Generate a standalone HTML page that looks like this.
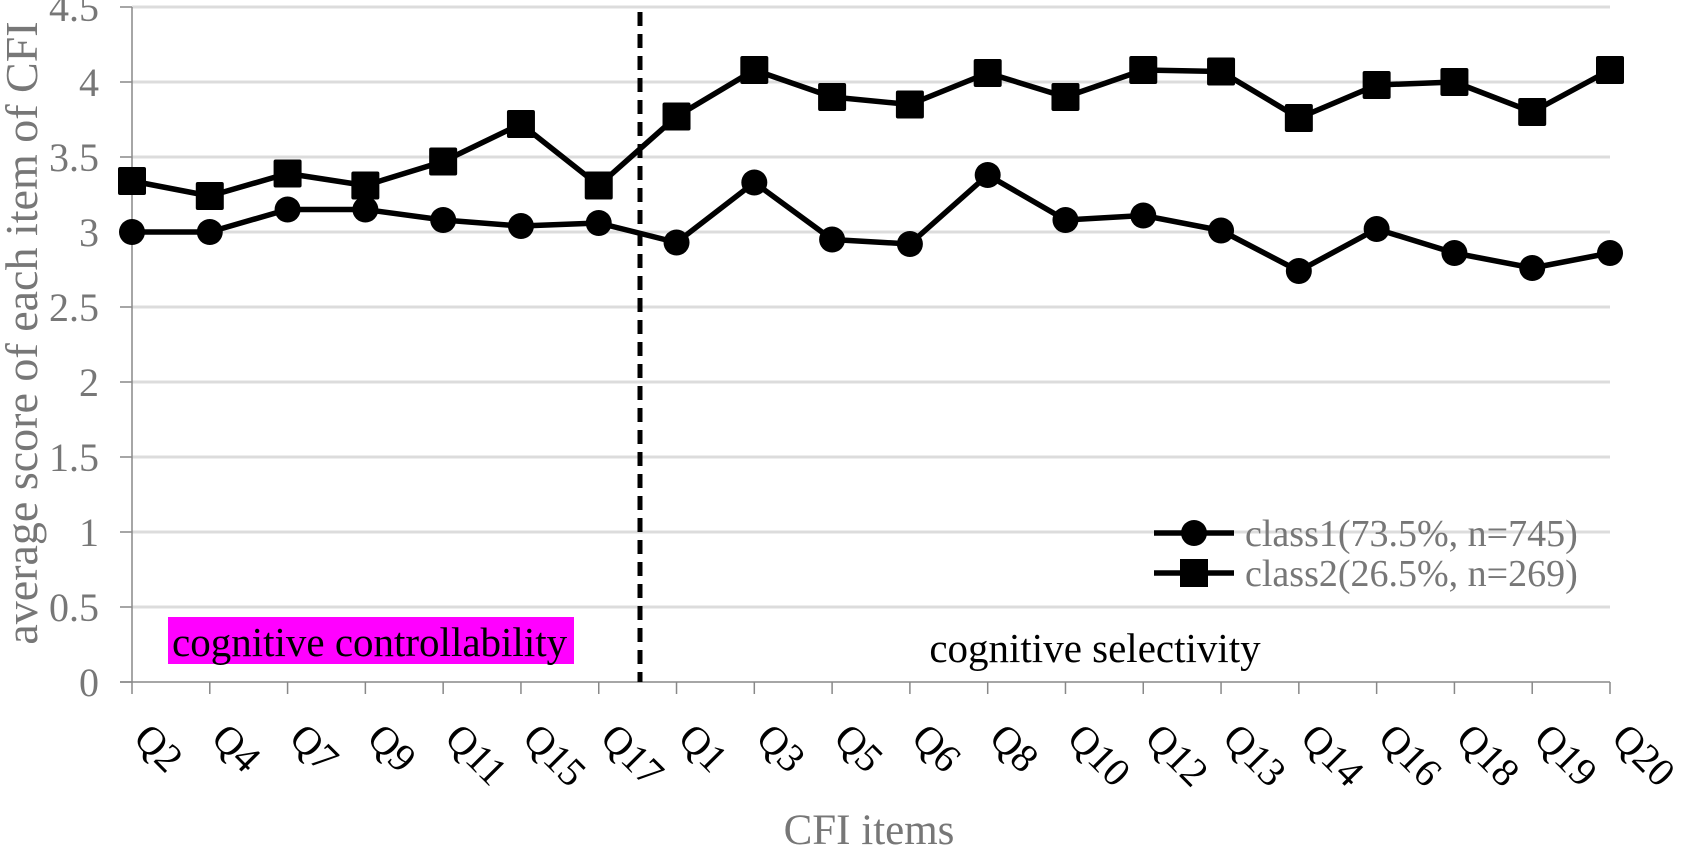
<!DOCTYPE html>
<html><head><meta charset="utf-8"><style>
html,body{margin:0;padding:0;background:#fff;}
svg text{font-family:"Liberation Serif",serif;}
</style></head><body>
<svg id="chart" width="1683" height="847" xmlns="http://www.w3.org/2000/svg">
<g id="grid"></g><g id="axes"></g>
<rect x="168" y="617" width="406" height="47" fill="#ff00ff"/>
<text x="172" y="656" font-size="41" fill="#000">cognitive controllability</text>
<text x="1095" y="662" font-size="41" fill="#000" text-anchor="middle">cognitive selectivity</text>
<line x1="640" y1="12" x2="640" y2="682" stroke="#000" stroke-width="5" stroke-dasharray="14,8"/>
<g id="series"></g>
<g>
<g>
<line x1="1154" y1="533" x2="1234" y2="533" stroke="#000" stroke-width="5.5"/>
<circle cx="1194" cy="533" r="13" fill="#000"/>
<text x="1245" y="546" font-size="38" fill="#777">class1(73.5%, n=745)</text></g>
<g>
<line x1="1154" y1="573" x2="1234" y2="573" stroke="#000" stroke-width="5.5"/>
<rect x="1180" y="559" width="28" height="28" fill="#000"/>
<text x="1245" y="586" font-size="38" fill="#777">class2(26.5%, n=269)</text></g>
</g>
<text x="869" y="844" font-size="43" fill="#777" text-anchor="middle">CFI items</text>
<text transform="translate(37,333) rotate(-90)" font-size="46" fill="#777" text-anchor="middle">average score of each item of CFI</text>
</svg>
<script>
const categories=["Q2","Q4","Q7","Q9","Q11","Q15","Q17","Q1","Q3","Q5","Q6","Q8","Q10","Q12","Q13","Q14","Q16","Q18","Q19","Q20"];
const class1=[3.0,3.0,3.15,3.15,3.08,3.04,3.06,2.93,3.33,2.95,2.92,3.38,3.08,3.11,3.01,2.74,3.02,2.86,2.76,2.86];
const class2=[3.34,3.24,3.39,3.31,3.47,3.72,3.31,3.77,4.08,3.90,3.85,4.06,3.90,4.08,4.07,3.76,3.98,4.0,3.80,4.08];
const yTicks=["0","0.5","1","1.5","2","2.5","3","3.5","4","4.5"];
const NS="http://www.w3.org/2000/svg";
const x0=132,x1=1610,y0=682,yPer=150;
const xs=i=>x0+i*(x1-x0)/(categories.length-1);
const ys=v=>y0-v*yPer;
function mk(tag,attrs,parent){const e=document.createElementNS(NS,tag);for(const k in attrs)e.setAttribute(k,attrs[k]);parent.appendChild(e);return e;}
const grid=document.getElementById('grid'),axes=document.getElementById('axes'),series=document.getElementById('series');
yTicks.forEach(t=>{const v=parseFloat(t),y=ys(v);
 if(v>0){const g=mk('line',{x1:x0,y1:y,x2:x1,y2:y,stroke:'#dcdcdc','stroke-width':3},grid);
 
 }
 const tk=mk('line',{x1:x0-12,y1:y,x2:x0,y2:y,stroke:'#888','stroke-width':1.5},axes);
 
 
 const tl=mk('text',{x:99,y:y+14,'font-size':40,fill:'#777','text-anchor':'end'},axes);tl.textContent=t;
 
 
});
const ya=mk('line',{x1:x0,y1:ys(4.5),x2:x0,y2:y0,stroke:'#888','stroke-width':1.5},axes);


const xa=mk('line',{x1:x0-12,y1:y0,x2:x1,y2:y0,stroke:'#888','stroke-width':1.5},axes);


categories.forEach((c,i)=>{const x=xs(i);
 const tk=mk('line',{x1:x,y1:y0,x2:x,y2:y0+12,stroke:'#888','stroke-width':1.5},axes);
 
 
 const tl=mk('text',{transform:`translate(${x},${y0+58}) rotate(45)`,'font-size':40,fill:'#000'},axes);tl.textContent=c;
 
 
});
function drawSeries(vals,shape,name){
 const p=mk('polyline',{points:vals.map((v,i)=>xs(i)+','+ys(v)).join(' '),fill:'none',stroke:'#000','stroke-width':5.5,'stroke-linejoin':'round'},series);
 
 
 vals.forEach((v,i)=>{let m;
  if(shape==='c')m=mk('circle',{cx:xs(i),cy:ys(v),r:13,fill:'#000'},series);
  else m=mk('rect',{x:xs(i)-14,y:ys(v)-14,width:28,height:28,rx:2,fill:'#000'},series);
  
  
 });
}
drawSeries(class1,'c','class1');
drawSeries(class2,'s','class2');
</script>
</body></html>
